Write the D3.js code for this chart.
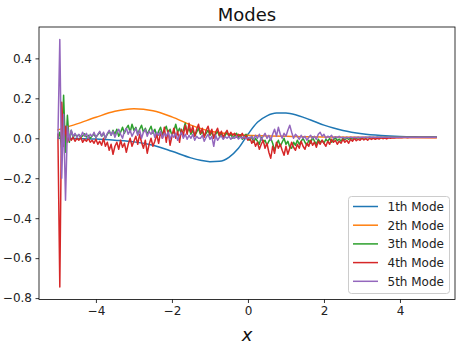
<!DOCTYPE html>
<html><head><meta charset="utf-8">
<script src="https://cdn.jsdelivr.net/npm/d3@7"></script>
<style>body{margin:0;background:#fff}svg{display:block}text{font-family:"DejaVu Sans",sans-serif}</style>
</head><body><svg id="c" width="461" height="348"></svg>
<script>
const seriesNames = ["1th Mode","2th Mode","3th Mode","4th Mode","5th Mode"];
const colors = ["#1f77b4","#ff7f0e","#2ca02c","#d62728","#9467bd"];
const xTicks = [-4,-2,0,2,4];
const yTicks = [0.4,0.2,0.0,-0.2,-0.4,-0.6,-0.8];

// smooth modes
const mode1X = [-5,-4.5,-4,-3.5,-3,-2.5,-2,-1.5,-1.25,-1,-0.75,-0.5,-0.25,0,0.25,0.5,0.75,1,1.25,1.5,1.75,2,2.25,2.5,3,3.5,4,4.5,4.95];
const mode1Y = [0.0,-0.001,-0.004,-0.01,-0.018,-0.035,-0.065,-0.098,-0.11,-0.117,-0.115,-0.095,-0.05,0.02,0.08,0.112,0.126,0.126,0.118,0.102,0.084,0.066,0.051,0.039,0.023,0.014,0.009,0.007,0.006];
const mode2X = [-5,-4.5,-4,-3.5,-3,-2.5,-2,-1.5,-1,-0.5,0,0.5,1,1.5,2,3,4,4.95];
const mode2Y = [0.042,0.072,0.105,0.135,0.148,0.138,0.107,0.066,0.036,0.022,0.015,0.012,0.01,0.008,0.007,0.005,0.004,0.003];

// noisy modes on grid x = -5 + 0.05*i
const mode3Y = [
0.00,0.03,-0.06,0.215,-0.07,0.115,-0.02,0.04,0.005,0.02,
0.01,0.018,0.004,0.012,0.022,0.006,0.015,0.0,0.012,0.02,
0.005,0.018,0.03,0.01,0.025,0.0,0.02,0.035,0.015,0.04,
0.02,0.045,0.01,0.03,0.055,0.025,0.05,0.065,0.03,0.07,
0.04,0.055,0.02,0.045,0.065,0.03,0.05,0.02,0.04,0.06,
0.025,0.045,0.01,0.035,0.055,0.02,0.04,0.06,0.025,0.045,
0.015,0.035,0.07,0.03,0.05,0.02,0.04,0.075,0.03,0.05,
0.02,0.04,0.01,0.03,0.05,0.02,0.035,0.01,0.025,0.04,
0.015,0.03,0.005,0.02,0.035,0.01,0.025,0.0,0.015,0.03,
0.01,0.02,0.0,0.015,0.025,0.005,0.018,-0.005,0.01,0.02,
0.0,-0.01,0.01,-0.02,0.0,-0.015,-0.03,0.005,-0.02,-0.01,
-0.035,-0.015,0.0,-0.025,-0.06,-0.03,-0.01,-0.04,-0.02,0.0,
-0.03,-0.015,-0.045,-0.05,-0.02,-0.035,-0.01,-0.03,-0.015,0.0,
-0.02,-0.035,-0.01,-0.025,0.005,-0.015,-0.03,-0.005,-0.02,-0.01,
-0.025,-0.005,-0.015,0.0,-0.02,-0.008,0.003,-0.012,-0.004,-0.015,
0.0,-0.008,0.004,-0.006,0.002,-0.004,0.003,-0.002,0.004,0.0,
0.003,0.001,0.004,0.002,0.005,0.003,0.004,0.002,0.005,0.004,
0.005,0.004,0.005,0.005,0.004,0.005,0.005,0.005,0.005,0.005,
0.005,0.005,0.005,0.005,0.005,0.005,0.005,0.005,0.005,0.005,
0.005,0.005,0.005,0.005,0.005,0.005,0.005,0.005,0.005,0.005];
const mode4Y = [
0.02,-0.745,0.18,-0.04,0.06,-0.02,0.01,-0.01,0.005,-0.015,
0.0,-0.01,0.005,-0.02,-0.005,-0.015,0.0,-0.02,-0.01,-0.025,
-0.005,-0.03,-0.015,-0.035,0.0,-0.04,-0.02,-0.06,-0.03,-0.08,
-0.04,-0.02,-0.055,-0.01,-0.045,-0.025,-0.07,-0.03,0.0,-0.04,
-0.015,0.01,-0.03,0.02,-0.02,-0.05,-0.01,-0.075,-0.03,0.0,
-0.04,-0.015,0.02,-0.025,0.03,0.0,0.055,-0.02,0.04,-0.035,
0.01,0.05,0.0,0.035,-0.02,0.045,0.015,0.065,0.02,0.075,
0.03,0.06,0.01,0.045,0.07,0.025,0.05,0.005,0.04,0.06,
0.02,0.045,0.0,0.03,0.05,0.015,0.035,0.005,0.025,0.04,
0.01,0.03,0.015,0.025,0.005,0.02,0.01,0.025,0.0,0.015,
-0.01,0.005,-0.025,-0.01,-0.04,-0.02,-0.055,-0.03,-0.01,-0.05,
-0.025,-0.07,-0.1,-0.04,-0.075,-0.02,-0.05,-0.03,-0.06,-0.085,
-0.04,-0.08,-0.05,-0.02,-0.045,-0.06,-0.03,-0.05,-0.015,-0.04,
-0.055,-0.025,-0.04,-0.01,-0.035,-0.02,-0.045,-0.015,-0.03,-0.01,
-0.025,-0.04,-0.015,-0.03,-0.005,-0.02,-0.01,-0.03,-0.015,-0.025,
-0.005,-0.02,-0.01,-0.025,-0.005,-0.015,0.0,-0.012,-0.004,-0.01,
0.0,-0.008,-0.002,-0.01,0.0,-0.006,0.001,-0.005,0.0,-0.004,
0.002,-0.002,0.001,-0.003,0.002,0.0,0.003,0.001,0.003,0.002,
0.004,0.003,0.004,0.004,0.003,0.004,0.004,0.004,0.004,0.004,
0.004,0.004,0.004,0.004,0.004,0.004,0.004,0.004,0.004,0.004];
const mode5Y = [
0.0,0.495,-0.2,0.12,-0.31,0.06,-0.01,0.04,0.01,0.025,
0.005,0.02,0.008,0.03,0.01,0.025,0.0,0.02,0.01,0.03,
0.005,0.02,0.035,0.01,0.03,0.0,0.025,0.04,0.015,0.035,
0.005,0.03,0.045,0.02,0.0,0.035,0.05,0.02,0.04,0.01,
0.03,0.05,0.015,0.04,0.0,0.03,0.045,0.01,0.035,0.02,
0.04,0.005,0.03,0.015,0.035,0.0,0.025,0.01,0.03,-0.005,
0.02,0.005,0.025,-0.01,0.015,0.03,0.0,0.02,-0.005,0.015,
0.0,0.02,-0.01,0.01,0.0,0.0,0.015,-0.015,0.005,0.02,
-0.005,0.01,-0.04,0.015,-0.01,0.005,0.012,-0.005,0.008,0.0,
0.01,-0.005,0.006,0.0,0.01,-0.004,0.005,0.0,0.008,-0.003,
0.004,0.0,0.01,-0.005,0.015,0.0,0.02,-0.01,0.01,0.025,
0.0,0.015,-0.01,0.02,0.045,0.01,0.055,0.02,0.0,0.025,
0.01,0.04,0.065,0.03,0.0,0.02,0.01,-0.005,0.015,0.0,
0.01,-0.01,0.005,0.015,0.0,0.01,-0.005,0.02,0.03,0.01,
0.02,0.0,0.01,0.005,0.015,0.0,0.008,0.003,0.01,0.002,
0.006,0.0,0.005,0.002,0.006,0.003,0.005,0.004,0.005,0.004,
0.005,0.005,0.005,0.005,0.005,0.005,0.005,0.005,0.005,0.005,
0.005,0.005,0.005,0.005,0.005,0.005,0.005,0.005,0.005,0.005,
0.005,0.005,0.005,0.005,0.005,0.005,0.005,0.005,0.005,0.005,
0.005,0.005,0.005,0.005,0.005,0.005,0.005,0.005,0.005,0.005];
const gridX = mode3Y.map((_, i) => -5 + 0.05 * i);

const series = [
  {x: mode1X, y: mode1Y, smooth: true},
  {x: mode2X, y: mode2Y, smooth: true},
  {x: gridX, y: mode3Y},
  {x: gridX, y: mode4Y},
  {x: gridX, y: mode5Y}
];

const svg = d3.select("#c");
const L = 39, R = 455, T = 27, B = 299.5;

const allX = series.flatMap(s => s.x), allY = series.flatMap(s => s.y);
const [x0, x1] = d3.extent(allX), [y0, y1] = d3.extent(allY);
const mx = (x1 - x0) * 0.05, my = (y1 - y0) * 0.05;
const x = d3.scaleLinear().domain([x0 - mx, x1 + mx]).range([L, R]);
const y = d3.scaleLinear().domain([y0 - my, y1 + my]).range([B, T]);

const plot = svg.append("g");
series.forEach((s, k) => {
  const line = d3.line().x(d => x(d[0])).y(d => y(d[1]))
    .curve(s.smooth ? d3.curveMonotoneX : d3.curveLinear);
  plot.append("path").datum(s.x.map((v, i) => [v, s.y[i]]))
    .attr("d", line).attr("fill", "none").attr("stroke", colors[k])
    .attr("stroke-width", 1.5).attr("stroke-linejoin", "round").attr("stroke-linecap", "square");
});

// axes
const gx = svg.append("g").attr("transform", `translate(0,${B})`)
  .call(d3.axisBottom(x).tickValues(xTicks).tickFormat(d3.format("d")).tickSize(3.5).tickPadding(3.5));
const gy = svg.append("g").attr("transform", `translate(${L},0)`)
  .call(d3.axisLeft(y).tickValues(yTicks).tickFormat(d3.format(".1f")).tickSize(3.5).tickPadding(3.5));
[gx, gy].forEach(g => {
  g.select(".domain").remove();
  g.selectAll(".tick line").attr("stroke", "#000").attr("stroke-width", 0.8);
  g.selectAll(".tick text").attr("fill", "#222").style("font-size", "12px").style("font-family", "DejaVu Sans");
});

svg.append("rect").attr("x", L).attr("y", T).attr("width", R - L).attr("height", B - T)
  .attr("fill", "none").attr("stroke", "#000").attr("stroke-width", 0.8);

// title & label
svg.append("text").attr("x", (L + R) / 2).attr("y", 21).attr("text-anchor", "middle")
  .style("font-size", "18px").attr("fill", "#111").text("Modes");
svg.append("text").attr("x", (L + R) / 2).attr("y", 341).attr("text-anchor", "middle")
  .style("font-size", "18px").style("font-style", "italic").attr("fill", "#111").text("x");

// legend
const lg = svg.append("g");
lg.append("rect").attr("x", 348.5).attr("y", 196.5).attr("width", 101).attr("height", 97).attr("rx", 3)
  .attr("fill", "#fff").attr("fill-opacity", 0.8).attr("stroke", "#ccc").attr("stroke-width", 1);
seriesNames.forEach((n, k) => {
  const yy = 206.5 + k * 18.7;
  lg.append("line").attr("x1", 353).attr("x2", 378).attr("y1", yy).attr("y2", yy)
    .attr("stroke", colors[k]).attr("stroke-width", 1.5);
  lg.append("text").attr("x", 387.5).attr("y", yy + 4.4).style("font-size", "12px").attr("fill", "#222").text(n);
});
</script></body></html>
